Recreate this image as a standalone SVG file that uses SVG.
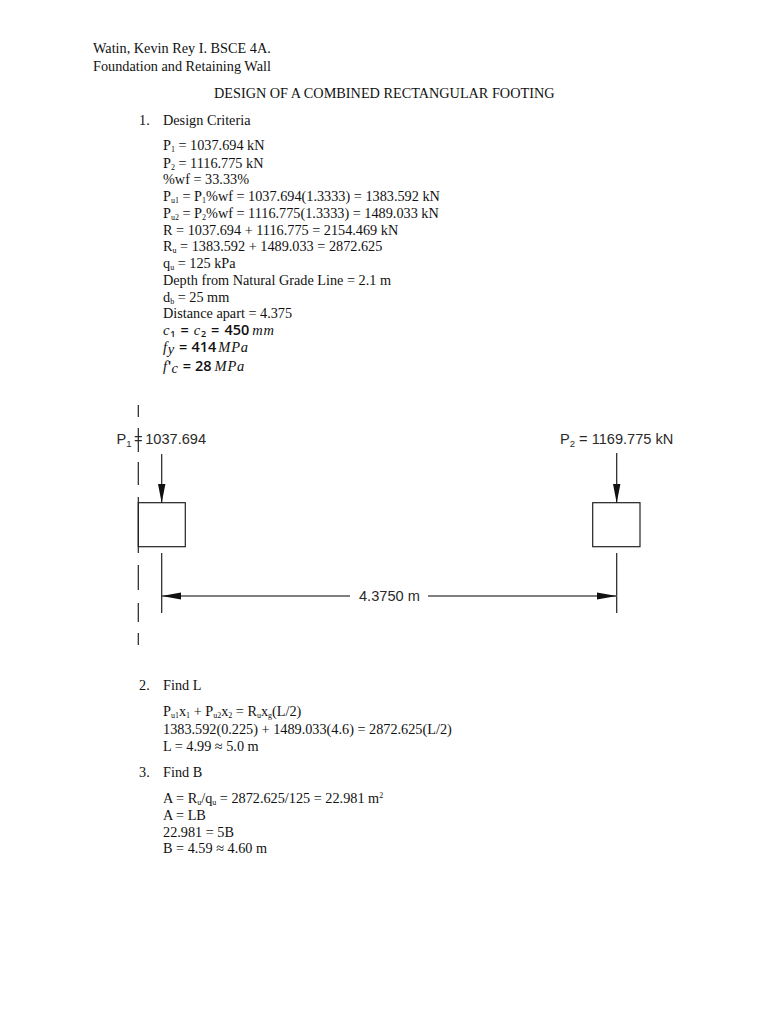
<svg xmlns="http://www.w3.org/2000/svg" width="768" height="1024" viewBox="0 0 768 1024">
<style>
text{font-family:"Liberation Serif","Times New Roman",serif;font-size:14.25px;fill:#111}
.s{font-size:8px;baseline-shift:-2px}
.u{font-size:8px;baseline-shift:5px}
.d{font-family:"Liberation Sans",Arial,sans-serif;font-size:14.6px;fill:#2a2a2a}
.ds{font-family:"Liberation Sans",Arial,sans-serif;font-size:9.5px;baseline-shift:-3px}
.m{font-family:"Open Sans","Noto Sans",sans-serif;font-size:14.5px;font-weight:600}
.i{font-family:"Liberation Serif",serif;font-style:italic;font-size:14.5px;font-weight:400;letter-spacing:.8px}
.l{stroke:#222;stroke-width:1.2;fill:none}
.g{stroke:#555;stroke-width:1.5;fill:none}
.h{fill:#111;stroke:none}
</style>
<rect width="768" height="1024" fill="#fff"/>
<g id="header">
<text x="93" y="53">Watin, Kevin Rey I. BSCE 4A.</text>
<text x="93" y="71">Foundation and Retaining Wall</text>
<text x="214" y="98">DESIGN OF A COMBINED RECTANGULAR FOOTING</text>
<text x="139" y="125">1.</text>
<text x="163" y="125">Design Criteria</text>
</g>
<g id="criteria">
<text x="163" y="150">P<tspan class="s">1</tspan> = 1037.694 kN</text>
<text x="163" y="168">P<tspan class="s">2</tspan> = 1116.775 kN</text>
<text x="163" y="184">%wf = 33.33%</text>
<text x="163" y="201">P<tspan class="s">u1</tspan> = P<tspan class="s">1</tspan>%wf = 1037.694(1.3333) = 1383.592 kN</text>
<text x="163" y="218">P<tspan class="s">u2</tspan> = P<tspan class="s">2</tspan>%wf = 1116.775(1.3333) = 1489.033 kN</text>
<text x="163" y="235">R = 1037.694 + 1116.775 = 2154.469 kN</text>
<text x="163" y="251">R<tspan class="s">u</tspan> = 1383.592 + 1489.033 = 2872.625</text>
<text x="163" y="268">q<tspan class="s">u</tspan> = 125 kPa</text>
<text x="163" y="285">Depth from Natural Grade Line = 2.1 m</text>
<text x="163" y="302">d<tspan class="s">b</tspan> = 25 mm</text>
<text x="163" y="318">Distance apart = 4.375</text>
<text x="163" y="335" class="m"><tspan class="i">c</tspan><tspan font-size="9" baseline-shift="-2">1</tspan><tspan dx="5">=</tspan><tspan class="i" dx="5">c</tspan><tspan font-size="9" baseline-shift="-2">2</tspan><tspan dx="5">=</tspan><tspan dx="5">450</tspan><tspan class="i" dx="3">mm</tspan></text>
<text x="163" y="352" class="m"><tspan class="i">f</tspan><tspan class="i" font-size="10" baseline-shift="-2">y</tspan><tspan dx="4">=</tspan><tspan dx="4">414</tspan><tspan class="i" dx="2">MPa</tspan></text>
<text x="163" y="371" class="m"><tspan class="i">f</tspan>'<tspan class="i" font-size="10" baseline-shift="-2">c</tspan><tspan dx="4">=</tspan><tspan dx="4">28</tspan><tspan class="i" dx="3">MPa</tspan></text>
</g>
<g id="centerline"><path class="l" d="M138.3 405V417M138.3 428V452M138.3 462V485M138.3 497V553M138.3 565V590M138.3 603V622M138.3 633V645"/></g>
<g id="column-1">
<rect class="l" x="138.3" y="502.7" width="47" height="44"/>
<text class="d" x="116.5" y="444" word-spacing="-1.5">P<tspan class="ds">1</tspan> = 1037.694</text>
</g>
<g id="column-2">
<rect class="l" x="592.7" y="502.7" width="47.3" height="44"/>
<text class="d" x="560" y="444">P<tspan class="ds">2</tspan> = 1169.775 kN</text>
</g>
<g id="connectors">
<path class="l" d="M161.7 454V503M616.7 453V503M161.7 553V613M616.7 553V613"/>
<path class="g" d="M162 596H350M428 596H617"/>
<path class="h" d="M161.7 503L158 484H165.4ZM616.7 503L613 484H620.4ZM161.7 596L181 592.6V599.4ZM616.7 596L597 592.6V599.4Z"/>
</g>
<g id="dimension-label"><text class="d" x="359" y="600.5">4.3750 m</text></g>
<g id="steps">
<text x="139" y="690">2.</text>
<text x="163" y="690">Find L</text>
<text x="163" y="716">P<tspan class="s">u1</tspan>x<tspan class="s">1</tspan> + P<tspan class="s">u2</tspan>x<tspan class="s">2</tspan> = R<tspan class="s">u</tspan>x<tspan class="s">g</tspan>(L/2)</text>
<text x="163" y="734">1383.592(0.225) + 1489.033(4.6) = 2872.625(L/2)</text>
<text x="163" y="751">L = 4.99 ≈ 5.0 m</text>
<text x="139" y="777">3.</text>
<text x="163" y="777">Find B</text>
<text x="163" y="803">A = R<tspan class="s">u</tspan>/q<tspan class="s">u</tspan> = 2872.625/125 = 22.981 m<tspan class="u">2</tspan></text>
<text x="163" y="820">A = LB</text>
<text x="163" y="837">22.981 = 5B</text>
<text x="163" y="853">B = 4.59 ≈ 4.60 m</text>
</g>
</svg>
